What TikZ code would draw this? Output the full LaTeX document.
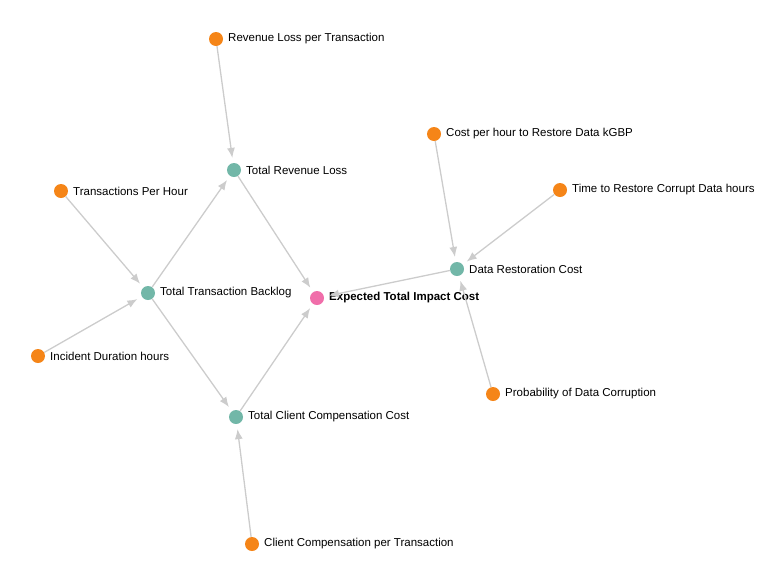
\documentclass[tikz,border=0pt]{standalone}
\usepackage{fontspec}
\setmainfont{Liberation Sans}
\usetikzlibrary{arrows.meta}
\definecolor{inorange}{HTML}{F58518}
\definecolor{midteal}{HTML}{72B7A8}
\definecolor{outpink}{HTML}{F06EAA}
\definecolor{edgegray}{HTML}{CCCCCC}
\begin{document}
\begin{tikzpicture}[x=1pt,y=-1pt,
  every label/.style={font=\fontsize{11.5}{13}\selectfont,label distance=1.5pt},
  dot/.style={circle,inner sep=0pt,minimum size=14pt},
  inp/.style={dot,fill=inorange},
  mid/.style={dot,fill=midteal},
  outp/.style={dot,fill=outpink},
  link/.style={draw=edgegray,line width=1.3pt,-{Latex[length=10pt,width=8pt,fill=edgegray]},shorten >=5pt}]
  \useasboundingbox (0,0) rectangle (768,571);
  \node [inp] (revpertx) at (216,39) [label=right:Revenue Loss per Transaction] {};
  \node [mid] (revloss) at (234,170) [label=right:Total Revenue Loss] {};
  \node [inp] (txhour) at (61,191) [label=right:Transactions Per Hour] {};
  \node [mid] (backlog) at (148,293) [label=right:Total Transaction Backlog] {};
  \node [inp] (duration) at (38,356) [label=right:Incident Duration hours] {};
  \node [mid] (clientcomp) at (236,417) [label=right:Total Client Compensation Cost] {};
  \node [inp] (comppertx) at (252,544) [label=right:Client Compensation per Transaction] {};
  \node [outp] (total) at (317,298) [label={right:\bfseries Expected Total Impact Cost}] {};
  \node [inp] (costhour) at (434,134) [label=right:Cost per hour to Restore Data kGBP] {};
  \node [inp] (restoretime) at (560,190) [label=right:Time to Restore Corrupt Data hours] {};
  \node [mid] (restore) at (457,269) [label=right:Data Restoration Cost] {};
  \node [inp] (corrupt) at (493,394) [label=right:Probability of Data Corruption] {};
  % edges
  \draw [link] (revpertx) -- (revloss);
  \draw [link] (txhour) -- (backlog);
  \draw [link] (duration) -- (backlog);
  \draw [link] (backlog) -- (revloss);
  \draw [link] (backlog) -- (clientcomp);
  \draw [link] (comppertx) -- (clientcomp);
  \draw [link] (revloss) -- (total);
  \draw [link] (clientcomp) -- (total);
  \draw [link] (restore) -- (total);
  \draw [link] (costhour) -- (restore);
  \draw [link] (restoretime) -- (restore);
  \draw [link] (corrupt) -- (restore);
\end{tikzpicture}
\end{document}
